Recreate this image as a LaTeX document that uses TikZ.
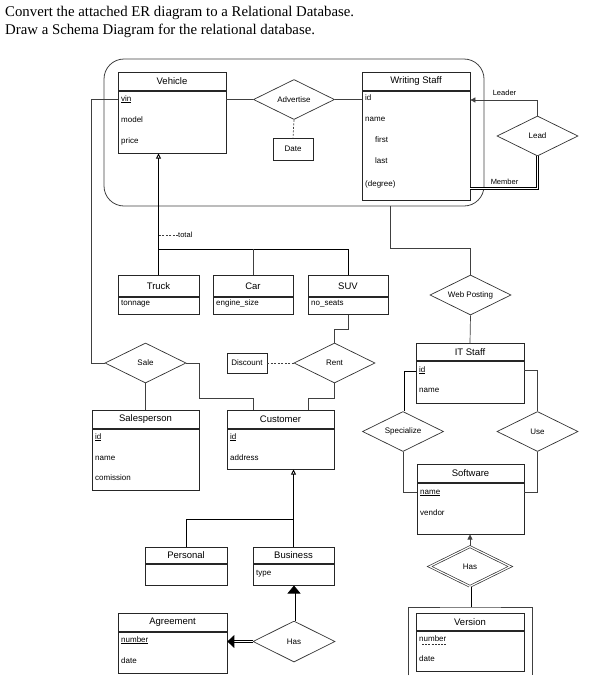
\documentclass[tikz,border=0pt]{standalone}
\usepackage{fontspec}
\setmainfont{Liberation Serif}
\setsansfont{Liberation Sans}
\usetikzlibrary{positioning,shapes.geometric,arrows.meta}

\begin{document}
\begin{tikzpicture}[x=1pt,y=-1pt,node distance=21pt,
   ent/.style={draw=black!85,line width=0.75pt,inner sep=0pt,anchor=north,font=\sffamily\fontsize{9.5}{11}\selectfont},
   attr/.style={inner sep=0pt,anchor=west,text height=6pt,text depth=2pt,font=\sffamily\fontsize{8}{9}\selectfont},
   rel/.style={diamond,draw=black!80,line width=0.7pt,aspect=2,inner sep=0pt,minimum width=81pt,minimum height=40pt,font=\sffamily\fontsize{8}{9}\selectfont},
   box/.style={draw=black!85,line width=0.75pt,inner sep=0pt,font=\sffamily\fontsize{8}{9}\selectfont},
   link/.style={draw=black!75,line width=0.7pt},
   isa/.style={draw=black,line width=0.9pt},
   dbl/.style={draw=black,double=white,double distance=1.2pt,line width=0.9pt},
   role/.style={inner sep=0pt,font=\sffamily\fontsize{7.5}{9}\selectfont},
   task/.style={inner sep=0pt,anchor=base west,font=\fontsize{14.8}{17}\selectfont}]
   \useasboundingbox (0,0) rectangle (594,699);
   % question
   \node[task] (line1) at (5,16) {Convert the attached ER diagram to a Relational Database.};
   \node[task] (line2) at (5,34) {Draw a Schema Diagram for the relational database.};

   % aggregation of Vehicle, Advertise, Writing Staff
   \node[draw=black!75,line width=0.8pt,rounded corners=20pt,minimum width=380pt,minimum height=147pt] (agg) at (294,132.5) {};

   \node[ent,minimum width=108pt,minimum height=18pt] (veh) at (172,72) {Vehicle};
   \node[ent,minimum width=108pt,minimum height=62pt] (vehB) at (veh.south) {};
   \node[attr] (vin) at (121,99) {\underline{vin}};
   \node[attr,below=of vin.west,anchor=west] (model) {model};
   \node[attr,below=of model.west,anchor=west] (price) {price};

   \node[rel] (adv) at (294,99.5) {Advertise};
   \node[box,minimum width=40pt,minimum height=22pt] (date) at (293,149) {Date};

   \node[ent,minimum width=108pt,minimum height=18pt] (ws) at (416,72) {Writing Staff};
   \node[ent,minimum width=108pt,minimum height=109pt] (wsB) at (ws.south) {};
   \node[attr] (wsid) at (365,98) {id};
   \node[attr,below=of wsid.west,anchor=west] (wsname) {name};
   \node[attr,below=of wsname.west,anchor=west,xshift=10pt] (first) {first};
   \node[attr,below=of first.west,anchor=west,yshift=-0.5pt] (last) {last};
   \node[attr,below=of last.west,anchor=west,xshift=-10pt,yshift=-1.5pt] (wsdeg) {(degree)};

   \node[rel] (lead) at (537.5,136) {Lead};
   \node[role] (leader) at (504.5,93) {Leader};
   \node[role] (member) at (504.5,182) {Member};

   \draw[link] (adv.west -| vehB.east) -- (adv.west);
   \draw[link] (adv.east) -- (adv.east -| wsB.west);
   \draw[link,dash pattern=on 2pt off 1.5pt] (adv.south) -- (date.north);
   \draw[link,-{Triangle[width=5pt,length=5pt]}] (lead.north) |- (wsB.east |- 0,100);
   \draw[dbl] (lead.south) |- (wsB.east |- 0,188.5);

   % Vehicle subclasses
   \node[ent,minimum width=81pt,minimum height=21pt] (truck) at (158.5,275) {Truck};
   \node[ent,minimum width=81pt,minimum height=17pt] (truckB) at (truck.south) {};
   \node[attr] (tonnage) at (121,303.5) {tonnage};
   \node[ent,minimum width=80pt,minimum height=21pt] (car) at (253,275) {Car};
   \node[ent,minimum width=80pt,minimum height=17pt] (carB) at (car.south) {};
   \node[attr] (engine) at (216,303.5) {engine\_size};
   \node[ent,minimum width=80pt,minimum height=21pt] (suv) at (348,275) {SUV};
   \node[ent,minimum width=80pt,minimum height=17pt] (suvB) at (suv.south) {};
   \node[attr] (seats) at (311,303.5) {no\_seats};

   \coordinate (isaV) at (truck.north |- 0,249);
   \draw[isa,{Triangle[open,width=5pt,length=5pt]}-] (vehB.south -| truck.north) -- (truck.north);
   \draw[isa] (isaV) -| (suv.north);
   \draw[link] (car.north |- isaV) -- (car.north);
   \node[role,anchor=west] (total) at (178,235) {total};
   \draw[link,dash pattern=on 2pt off 1.5pt,line width=0.5pt] (total.west) -- (total.west -| truck.north);

   % Web Posting, IT Staff, Software, Version
   \node[rel] (web) at (470.5,295) {Web Posting};
   \draw[link] ([xshift=96pt]agg.south) -- ++(0,42) -| (web.north);

   \node[ent,minimum width=108pt,minimum height=17pt] (it) at (470,343) {IT Staff};
   \node[ent,minimum width=108pt,minimum height=42pt] (itB) at (it.south) {};
   \node[attr] (itid) at (419,370) {\underline{id}};
   \node[attr,below=20pt of itid.west,anchor=west] (itname) {name};
   \draw[link] (web.south) -- (it.north);

   \node[rel] (spec) at (403,431.5) {Specialize};
   \node[rel] (use) at (537.5,431.5) {Use};

   \node[ent,minimum width=107pt,minimum height=18pt] (sw) at (470.5,464) {Software};
   \node[ent,minimum width=107pt,minimum height=51pt] (swB) at (sw.south) {};
   \node[attr] (swname) at (420,492) {\underline{name}};
   \node[attr,below=of swname.west,anchor=west] (vendor) {vendor};

   \draw[dbl] (itB.west |- itid) -| (spec.north);
   \draw[link] (itB.east |- itid) -| (use.north);
   \draw[link] (spec.south) |- (swB.west |- swname);
   \draw[link] (use.south) |- (swB.east |- swname);

   \node[rel,double,double distance=1.2pt] (has2) at (470,566.5) {Has};
   \draw[link,-{Triangle[width=5pt,length=5pt]}] (has2.north) -- (swB.south -| has2.north);

   \node[minimum width=123pt,minimum height=68pt,inner sep=0pt,anchor=north] (verBox) at (470.5,607) {};
   \draw[link] (verBox.south west) |- (verBox.north) -| (verBox.south east);
   \draw[dbl] (has2.south) -- (has2.south |- verBox.north);
   \node[ent,minimum width=108pt,minimum height=17pt] (ver) at (470,613) {Version};
   \node[ent,minimum width=108pt,minimum height=40pt] (verB) at (ver.south) {};
   \node[attr] (vnum) at (419,639) {number};
   \node[attr] (vdate) at (419,659) {date};
   \draw[black!80,line width=0.6pt,dash pattern=on 2pt off 1.2pt] ([xshift=3pt,yshift=-1.5pt]vnum.south west) -- ([yshift=-1.5pt]vnum.south east);

   % Sale, Rent, Salesperson, Customer
   \node[rel] (sale) at (145.5,363) {Sale};
   \node[rel] (rent) at (334.5,363) {Rent};
   \node[box,minimum width=40pt,minimum height=20pt] (disc) at (247,363) {Discount};
   \draw[link,dash pattern=on 2pt off 1.5pt] (disc.east) -- (rent.west);

   \node[ent,minimum width=107pt,minimum height=18pt] (sp) at (145.5,410) {Salesperson};
   \node[ent,minimum width=107pt,minimum height=61pt] (spB) at (sp.south) {};
   \node[attr] (spid) at (95,437) {\underline{id}};
   \node[attr,below=of spid.west,anchor=west] (spname) {name};
   \node[attr,below=20pt of spname.west,anchor=west] (spcom) {comission};

   \node[ent,minimum width=107pt,minimum height=18pt] (cust) at (280.5,410) {Customer};
   \node[ent,minimum width=107pt,minimum height=40pt] (custB) at (cust.south) {};
   \node[attr] (custid) at (230,437) {\underline{id}};
   \node[attr,below=of custid.west,anchor=west] (addr) {address};

   \draw[link] (vehB.west |- vin) -- ++(-26,0) |- (sale.west);
   \draw[link] (sale.south) -- (sp.north);
   \draw[link] (sale.east) -- ++(13,0) -- ++(0,35) -| ([xshift=-27.5pt]cust.north);
   \draw[link] (suvB.south) -- ++(0,15) -| (rent.north);
   \draw[link] (rent.south) -- ++(0,15) -| ([xshift=27.5pt]cust.north);

   % Customer subclasses and Agreement
   \node[ent,minimum width=82pt,minimum height=16pt] (pers) at (186,547) {Personal};
   \node[ent,minimum width=82pt,minimum height=21pt] (persB) at (pers.south) {};
   \node[ent,minimum width=81pt,minimum height=16pt] (bus) at (293.5,547) {Business};
   \node[ent,minimum width=81pt,minimum height=21pt] (busB) at (bus.south) {};
   \node[attr] (type) at (256,573) {type};

   \coordinate (isaC) at (bus.north |- 0,519);
   \draw[isa,{Triangle[open,width=5pt,length=5pt]}-] (custB.south -| bus.north) -- (bus.north);
   \draw[isa] (isaC) -| (pers.north);

   \node[rel,minimum width=82pt,minimum height=41pt] (has1) at (294,641.5) {Has};
   \node[ent,minimum width=109pt,minimum height=18pt] (agr) at (172.5,613) {Agreement};
   \node[ent,minimum width=109pt,minimum height=41pt] (agrB) at (agr.south) {};
   \node[attr] (anum) at (121,640) {\underline{number}};
   \node[attr,below=of anum.west,anchor=west] (adate) {date};

   \draw[dbl,-{Triangle[width=13pt,length=8pt]}] (has1.north) -- (busB.south -| has1.north);
   \draw[dbl,-{Triangle[width=13pt,length=7pt]}] (has1.west) -- (has1.west -| agrB.east);
\end{tikzpicture}
\end{document}
